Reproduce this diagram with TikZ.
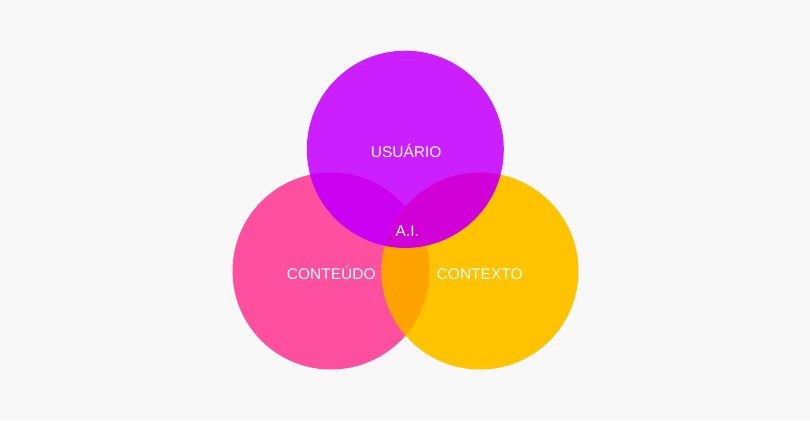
\documentclass[tikz,border=0pt]{standalone}
\usepackage{fontspec}
\setmainfont{Liberation Sans}
\definecolor{bg}{HTML}{F8F8F8}
\definecolor{cpink}{HTML}{FF509F}
\definecolor{cyellow}{HTML}{FFC300}
\definecolor{cpurple}{HTML}{CC1FFF}
\definecolor{cpy}{HTML}{FFA300}
\definecolor{cpp}{HTML}{CC00F0}
\definecolor{cpuy}{HTML}{D000D6}
\tikzset{lbl/.style={text=white, font=\fontsize{15.5}{18}\selectfont, anchor=base, inner sep=0pt}}
\def\R{98.5}
\begin{document}
\begin{tikzpicture}[x=1pt,y=-1pt]
\fill[bg] (0,0) rectangle (810,420);
\useasboundingbox (0,0) rectangle (810,420);
\coordinate (cP) at (331,271);
\coordinate (cY) at (480,271);
\coordinate (cU) at (405.3,149.2);
\fill[cpink] (cP) circle[radius=\R];
\fill[cyellow] (cY) circle[radius=\R];
\begin{scope}
\clip (cP) circle[radius=\R];
\fill[cpy] (cY) circle[radius=\R];
\end{scope}
\fill[cpurple] (cU) circle[radius=\R];
\begin{scope}
\clip (cU) circle[radius=\R];
\fill[cpp] (cP) circle[radius=\R];
\fill[cpuy] (cY) circle[radius=\R];
\end{scope}
\node[lbl] (usuario) at (406.2,157.3) {USUÁRIO};
\node[lbl] (conteudo) at (331.3,279) {CONTEÚDO};
\node[lbl] (contexto) at (479.7,279) {CONTEXTO};
\node[lbl] (ai) at (407.3,236.7) {A.I.};
\end{tikzpicture}
\end{document}
